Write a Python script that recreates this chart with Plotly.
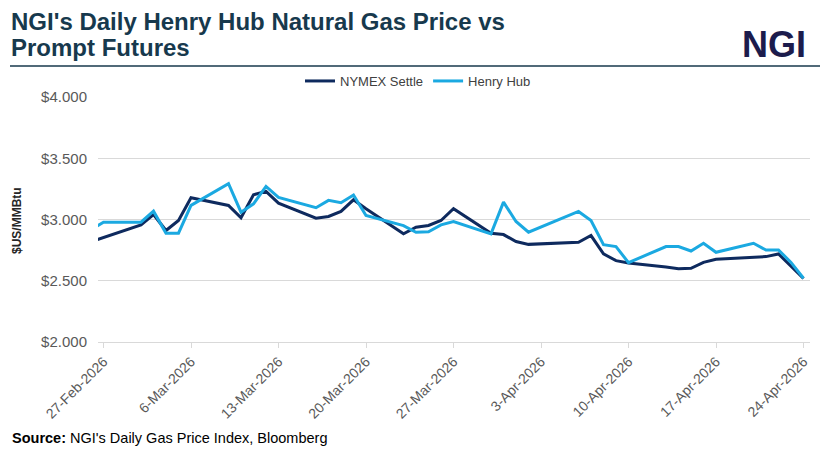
import plotly.graph_objects as go

dates = ["2026-02-26", "2026-02-27", "2026-03-02", "2026-03-03", "2026-03-04", "2026-03-05", "2026-03-06",
         "2026-03-09", "2026-03-10", "2026-03-11", "2026-03-12", "2026-03-13",
         "2026-03-16", "2026-03-17", "2026-03-18", "2026-03-19", "2026-03-20",
         "2026-03-23", "2026-03-24", "2026-03-25", "2026-03-26", "2026-03-27",
         "2026-03-30", "2026-03-31", "2026-04-01", "2026-04-02",
         "2026-04-06", "2026-04-07", "2026-04-08", "2026-04-09", "2026-04-10",
         "2026-04-13", "2026-04-14", "2026-04-15", "2026-04-16", "2026-04-17",
         "2026-04-20", "2026-04-21", "2026-04-22", "2026-04-23", "2026-04-24"]

nymex_settle = [2.818, 2.851, 2.955, 3.041, 2.910, 2.992, 3.178,
                3.115, 3.014, 3.202, 3.230, 3.134,
                3.011, 3.025, 3.066, 3.161, 3.088,
                2.883, 2.937, 2.951, 2.992, 3.088,
                2.888, 2.877, 2.820, 2.797,
                2.814, 2.869, 2.719, 2.664, 2.645,
                2.612, 2.598, 2.602, 2.650, 2.675,
                2.691, 2.697, 2.719, 2.620, 2.518]

henry_hub = [2.916, 2.978, 2.978, 3.068, 2.888, 2.888, 3.115,
             3.293, 3.060, 3.128, 3.270, 3.180,
             3.096, 3.156, 3.137, 3.200, 3.033,
             2.950, 2.896, 2.900, 2.956, 2.984,
             2.883, 3.142, 2.984, 2.896,
             3.066, 2.992, 2.795, 2.779, 2.648,
             2.779, 2.779, 2.743, 2.806, 2.732,
             2.806, 2.751, 2.751, 2.650, 2.520]

tick_dates = ["2026-02-27", "2026-03-06", "2026-03-13", "2026-03-20", "2026-03-27",
              "2026-04-03", "2026-04-10", "2026-04-17", "2026-04-24"]
y_ticks = [2.0, 2.5, 3.0, 3.5, 4.0]
y_tick_text = ["$%.3f" % v for v in y_ticks]

W, H = 829, 449
PL, PR, PT, PB = 98, 810, 97, 342


def px(x):
    return (x - PL) / (PR - PL)


def py(y):
    return (PB - y) / (PB - PT)


NAVY = "#0e2a5e"
LBLUE = "#1ba9e1"
TEAL = "#17394d"

fig = go.Figure()
fig.add_trace(go.Scatter(x=dates, y=nymex_settle, mode="lines", name="NYMEX Settle",
                         line=dict(color=NAVY, width=3)))
fig.add_trace(go.Scatter(x=dates, y=henry_hub, mode="lines", name="Henry Hub",
                         line=dict(color=LBLUE, width=3)))

fig.update_layout(
    width=W, height=H,
    margin=dict(l=PL, r=W - PR, t=PT, b=H - PB, pad=0),
    paper_bgcolor="white", plot_bgcolor="white",
    font=dict(family="Liberation Sans, Arial, sans-serif", color="#595959"),
    showlegend=True,
    legend=dict(orientation="h", x=px(418), xanchor="center", y=py(81), yanchor="middle",
                font=dict(size=13, color="#404040"), bgcolor="rgba(0,0,0,0)",
                itemwidth=30, tracegroupgap=0),
    xaxis=dict(type="date", range=["2026-02-26 13:26", "2026-04-24 12:29"],
               tickvals=tick_dates, tickformat="%-d-%b-%Y", tickangle=-45,
               tickfont=dict(size=14, color="#595959"),
               showgrid=False, zeroline=False,
               showline=True, linecolor="#d9d9d9", linewidth=1,
               ticks="outside", ticklen=5, tickcolor="#d9d9d9"),
    yaxis=dict(range=[2.0, 4.0], tickmode="array", tickvals=y_ticks, ticktext=y_tick_text,
               tickfont=dict(size=15, color="#595959"),
               showgrid=True, gridcolor="#d9d9d9", gridwidth=1,
               zeroline=False, showline=False, ticks="", ticklabelstandoff=10),
)

annotations = [
    dict(text="<b>NGI's Daily Henry Hub Natural Gas Price vs</b>",
         x=px(9), y=py(21), xref="paper", yref="paper", xanchor="left", yanchor="middle",
         align="left", showarrow=False, font=dict(size=24, color=TEAL)),
    dict(text="<b>Prompt Futures</b>",
         x=px(9), y=py(47), xref="paper", yref="paper", xanchor="left", yanchor="middle",
         align="left", showarrow=False, font=dict(size=24, color=TEAL)),
    dict(text="<b>NGI</b>", x=px(808), y=py(44), xref="paper", yref="paper",
         xanchor="right", yanchor="middle", showarrow=False,
         font=dict(size=36, color="#1c1c4c")),
    dict(text="<b>$US/MMBtu</b>", x=px(17), y=py(221), xref="paper", yref="paper",
         xanchor="center", yanchor="middle", textangle=-90, showarrow=False,
         font=dict(size=12, color="#262626")),
    dict(text="<b>Source:</b> NGI's Daily Gas Price Index, Bloomberg",
         x=px(10), y=py(438), xref="paper", yref="paper", xanchor="left", yanchor="middle",
         showarrow=False, font=dict(size=14.5, color="#000000")),
]
fig.update_layout(annotations=annotations)

fig.add_shape(type="line", xref="paper", yref="paper",
              x0=px(10), x1=px(820), y0=py(66), y1=py(66),
              line=dict(color=TEAL, width=1.5))

fig.write_html("out.html")
